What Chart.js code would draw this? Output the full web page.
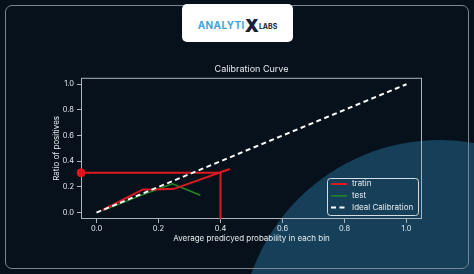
<!DOCTYPE html>
<html>
<head>
<meta charset="utf-8">
<script src="https://cdn.jsdelivr.net/npm/chart.js@4"></script>
<style>
  body { margin:0; width:474px; height:274px; overflow:hidden; position:relative; background:#07111b; font-family:Inter, sans-serif; }
  .circle { position:absolute; left:240px; top:140px; width:400px; height:400px; border-radius:50%; background:#163f5a; }
  .frame { position:absolute; left:5px; top:5px; width:462px; height:262px; border:1px solid #7b868e; border-radius:7px; }
  .logo { position:absolute; left:182px; top:4px; width:111px; height:38px; background:#fff; border-radius:5px; text-align:center; line-height:38px; white-space:nowrap; }
  .logo .a { color:#3ea6dc; font-weight:700; font-size:10px; letter-spacing:0.4px; }
  .logo .x { color:#16213e; font-weight:900; font-size:18px; vertical-align:-3px; }
  .logo .l { color:#1b1f2a; font-weight:700; font-size:7px; }
  canvas { position:absolute; left:0; top:0; }
</style>
</head>
<body>
<div class="circle"></div>
<div class="frame"></div>
<div class="logo"><span class="a">ANALYTI</span><span class="x">X</span><span class="l">LABS</span></div>
<canvas id="myChart" width="474" height="274"></canvas>
<script>
// data
var seriesNames = ['tratin', 'test', 'Ideal Calibration']
var trainX = [0.02, 0.15, 0.19, 0.25, 0.43]
var trainY = [0.02, 0.18, 0.18, 0.185, 0.34]
var testX = [0.02, 0.15, 0.245, 0.335]
var testY = [0.015, 0.14, 0.225, 0.135]
var idealX = [0, 1]
var idealY = [0, 1]
var markX = 0.4
var markY = 0.31
var axisMin = -0.05
var axisMax = 1.05
var xTicks = [0, 0.2, 0.4, 0.6, 0.8, 1.0]
var yTicks = [0, 0.2, 0.4, 0.6, 0.8, 1.0]

function pts(xs, ys) {
    return xs.map((x, i) => ({ x: x, y: ys[i] }))
}

const FONT = 'Inter'
const TXT = '#e8ecef'

// box around the axes + legend frame
const boxPlugin = {
    id: 'boxPlugin',
    beforeDatasetsDraw(chart) {
        const { ctx, chartArea: a } = chart
        ctx.save()
        ctx.strokeStyle = '#aab4ba'
        ctx.lineWidth = 1
        ctx.strokeRect(a.left + 0.5, a.top + 0.5, a.right - a.left - 1, a.bottom - a.top - 1)
        ctx.restore()
    },
    afterDraw(chart) {
        const { ctx, chartArea: a } = chart
        const w = 91, h = 37
        const left = a.right - 4 - w
        const top = a.bottom - 4 - h
        ctx.save()
        ctx.strokeStyle = '#d4dde2'
        ctx.lineWidth = 1
        ctx.beginPath()
        ctx.roundRect(left + 0.5, top + 0.5, w, h, 3)
        ctx.stroke()
        ctx.font = '8px ' + FONT
        ctx.textBaseline = 'middle'
        ctx.fillStyle = TXT
        for (let i = 0; i < 3; i++) {
            const ds = chart.data.datasets[i]
            const y = top + 6 + i * 11.8
            ctx.strokeStyle = ds.borderColor
            ctx.lineWidth = ds.borderWidth
            ctx.setLineDash(ds.borderDash || [])
            ctx.beginPath()
            ctx.moveTo(left + 4, y)
            ctx.lineTo(left + 20, y)
            ctx.stroke()
            ctx.setLineDash([])
            ctx.fillText(ds.label, left + 25, y)
        }
        ctx.restore()
    }
}

const ctx = document.getElementById('myChart').getContext('2d')
const myChart = new Chart(ctx, {
    type: 'scatter',
    data: {
        datasets: [{
            label: seriesNames[0],
            data: pts(trainX, trainY),
            borderColor: '#dc1a1f',
            borderWidth: 2,
            showLine: true,
            pointRadius: 0,
            order: 1,
        }, {
            label: seriesNames[1],
            data: pts(testX, testY),
            borderColor: '#1f8a24',
            borderWidth: 1.5,
            showLine: true,
            pointRadius: 0,
            order: 2,
        }, {
            label: seriesNames[2],
            data: pts(idealX, idealY),
            borderColor: '#ffffff',
            borderWidth: 2,
            borderDash: [5, 3.5],
            showLine: true,
            pointRadius: 0,
            order: 0,
        }, {
            //guide lines to the marked point
            label: 'guide',
            data: pts([axisMin, markX, markX], [markY, markY, axisMin]),
            borderColor: '#dc1a1f',
            borderWidth: 2,
            showLine: true,
            pointRadius: 0,
            order: 3,
        }, {
            //dot on the y axis
            label: 'dot',
            data: pts([axisMin], [markY]),
            backgroundColor: '#e0161c',
            borderColor: '#e0161c',
            pointRadius: 4,
            clip: false,
            order: 0,
        }]
    },
    options: {
        responsive: false,
        animation: false,
        events: [],
        layout: { padding: { left: 52, right: 52, top: 60, bottom: 30 } },
        plugins: {
            legend: { display: false },
            tooltip: { enabled: false },
            title: {
                display: true,
                text: 'Calibration Curve',
                color: TXT,
                fullSize: false,
                font: { family: FONT, size: 9, weight: 'normal' },
                padding: { top: 4, bottom: 3 },
            },
        },
        scales: {
            x: {
                type: 'linear',
                min: axisMin,
                max: axisMax,
                afterBuildTicks: (s) => { s.ticks = xTicks.map(v => ({ value: v })) },
                afterFit: (s) => { s.height = 25 },
                ticks: {
                    color: TXT,
                    font: { family: FONT, size: 7.5 },
                    padding: 1,
                    maxRotation: 0,
                    callback: (v) => v.toFixed(1),
                },
                grid: { drawOnChartArea: false, drawTicks: true, tickLength: 4, color: '#aab4ba' },
                border: { display: false },
                title: {
                    display: true,
                    text: 'Average predicyed probability in each bin',
                    color: TXT,
                    font: { family: FONT, size: 8 },
                    padding: { top: 0, bottom: 1 },
                },
            },
            y: {
                type: 'linear',
                min: axisMin,
                max: axisMax,
                afterBuildTicks: (s) => { s.ticks = yTicks.map(v => ({ value: v })) },
                afterFit: (s) => { s.width = 29 },
                ticks: {
                    color: TXT,
                    font: { family: FONT, size: 7.5 },
                    padding: 3,
                    callback: (v) => v.toFixed(1),
                },
                grid: { drawOnChartArea: false, drawTicks: true, tickLength: 4, color: '#aab4ba' },
                border: { display: false },
                title: {
                    display: true,
                    text: 'Ratio of positives',
                    color: TXT,
                    font: { family: FONT, size: 8 },
                    padding: { top: 0, bottom: 0 },
                },
            },
        },
    },
    plugins: [boxPlugin],
})
</script>
</body>
</html>
